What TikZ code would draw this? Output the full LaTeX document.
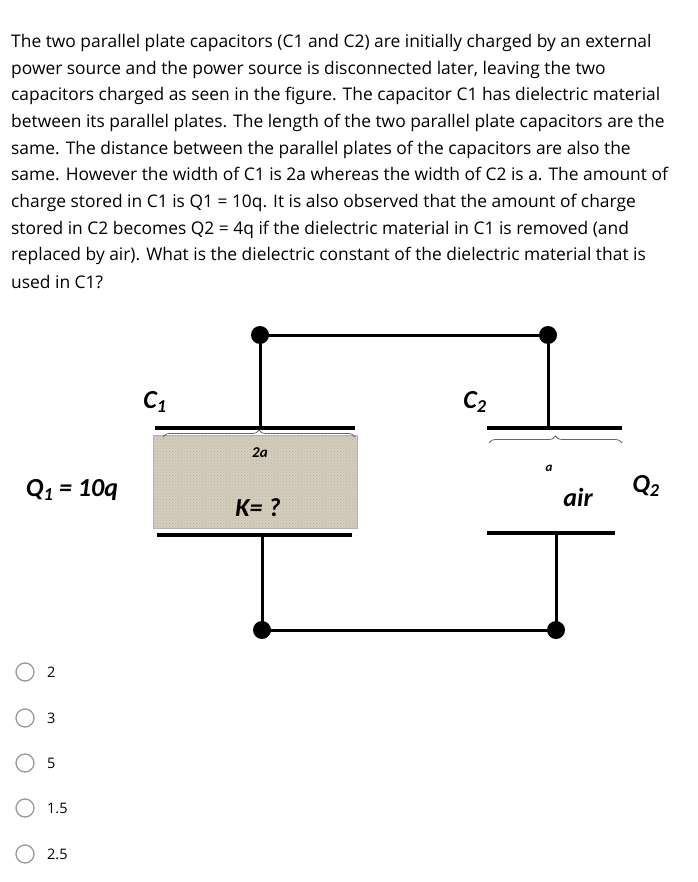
\documentclass[tikz,border=0pt]{standalone}
\usepackage{fontspec}
\setmainfont{Open Sans}
\newfontfamily\carlitofont{Carlito}
\usetikzlibrary{decorations.pathreplacing,patterns}
\definecolor{diel}{RGB}{214,206,186}
\begin{document}
\begin{tikzpicture}[x=1pt,y=-1pt,
  txt/.style={anchor=base west,inner sep=0,font=\fontsize{17.4}{20}\selectfont},
  wire/.style={line width=3pt},
  plate/.style={line width=4pt},
  dot/.style={circle,fill=black,inner sep=0,minimum size=18pt},
  lab/.style={font=\carlitofont\bfseries\itshape\fontsize{26}{28}\selectfont,inner sep=0},
  opt/.style={circle,draw=gray!80,line width=1.3pt,minimum size=18pt,inner sep=0},
  optl/.style={anchor=west,inner sep=0,font=\fontsize{14.5}{16}\selectfont},
  brace/.style={decorate,decoration={brace,amplitude=7pt},draw=gray!80!black,line width=0.8pt}]
\useasboundingbox (0,0) rectangle (697,882);
\node[txt] (l1) at (11,48) {The two parallel plate capacitors (C1 and C2) are initially charged by an external};
\node[txt] (l2) at (11,75) {power source and the power source is disconnected later, leaving the two};
\node[txt] (l3) at (11,101) {capacitors charged as seen in the figure. The capacitor C1 has dielectric material};
\node[txt] (l4) at (11,128) {between its parallel plates. The length of the two parallel plate capacitors are the};
\node[txt] (l5) at (11,155) {same. The distance between the parallel plates of the capacitors are also the};
\node[txt] (l6) at (11,181) {same. However the width of C1 is 2a whereas the width of C2 is a. The amount of};
\node[txt] (l7) at (11,208) {charge stored in C1 is Q1 = 10q. It is also observed that the amount of charge};
\node[txt] (l8) at (11,235) {stored in C2 becomes Q2 = 4q if the dielectric material in C1 is removed (and};
\node[txt] (l9) at (11,261) {replaced by air). What is the dielectric constant of the dielectric material that is};
\node[txt] (l10) at (11,288) {used in C1?};
% dielectric
\fill[diel,draw=gray!60] (153,435) rectangle (357,528);
\fill[pattern=crosshatch dots,pattern color=gray!60] (153,435) rectangle (357,528);
% plates
\draw[plate] (155,428) -- (355,428);
\draw[plate] (157,535) -- (352,535);
\draw[plate] (487,428) -- (622,428);
\draw[plate] (487,533) -- (615,533);
\node[dot] (tl) at (260,335) {};
\node[dot] (tr) at (548,335) {};
\node[dot] (bl) at (262,630) {};
\node[dot] (br) at (556,630) {};
\coordinate (p1t) at (260,428);
\coordinate (p2t) at (548,428);
\coordinate (p1b) at (262,535);
\coordinate (p2b) at (556,533);
\draw[wire] (tl.center) -- (tr.center);
\draw[wire] (bl.center) -- (br.center);
\draw[wire] (tl.center) -- (p1t);
\draw[wire] (tr.center) -- (p2t);
\draw[wire] (bl.center) -- (p1b);
\draw[wire] (br.center) -- (p2b);
\draw[brace] (163,437) -- (355,437);
\draw[brace] (489,443) -- (622,443);
\node[lab] (c1) at (155,402) {C\textsubscript{1}};
\node[lab] (c2) at (475,402) {C\textsubscript{2}};
\node[lab] (q1) at (72,490) {Q\textsubscript{1} = 10q};
\node[lab] (q2) at (646,486) {Q\textsubscript{2}};
\node[lab,font=\carlitofont\bfseries\itshape\fontsize{15}{16}\selectfont] (w1) at (260,453) {2a};
\node[lab,font=\carlitofont\bfseries\itshape\fontsize{13}{14}\selectfont] (w2) at (549,468) {a};
\node[lab] (k) at (258,508) {K= ?};
\node[lab] (air) at (578,497) {air};
\foreach \y/\t [count=\i] in {672/2,718/3,763/5,808/1.5,854/2.5}{
  \node[opt] (o\i) at (25,\y) {};
  \node[optl] (ol\i) at (47,\y) {\t};
}
\end{tikzpicture}
\end{document}
